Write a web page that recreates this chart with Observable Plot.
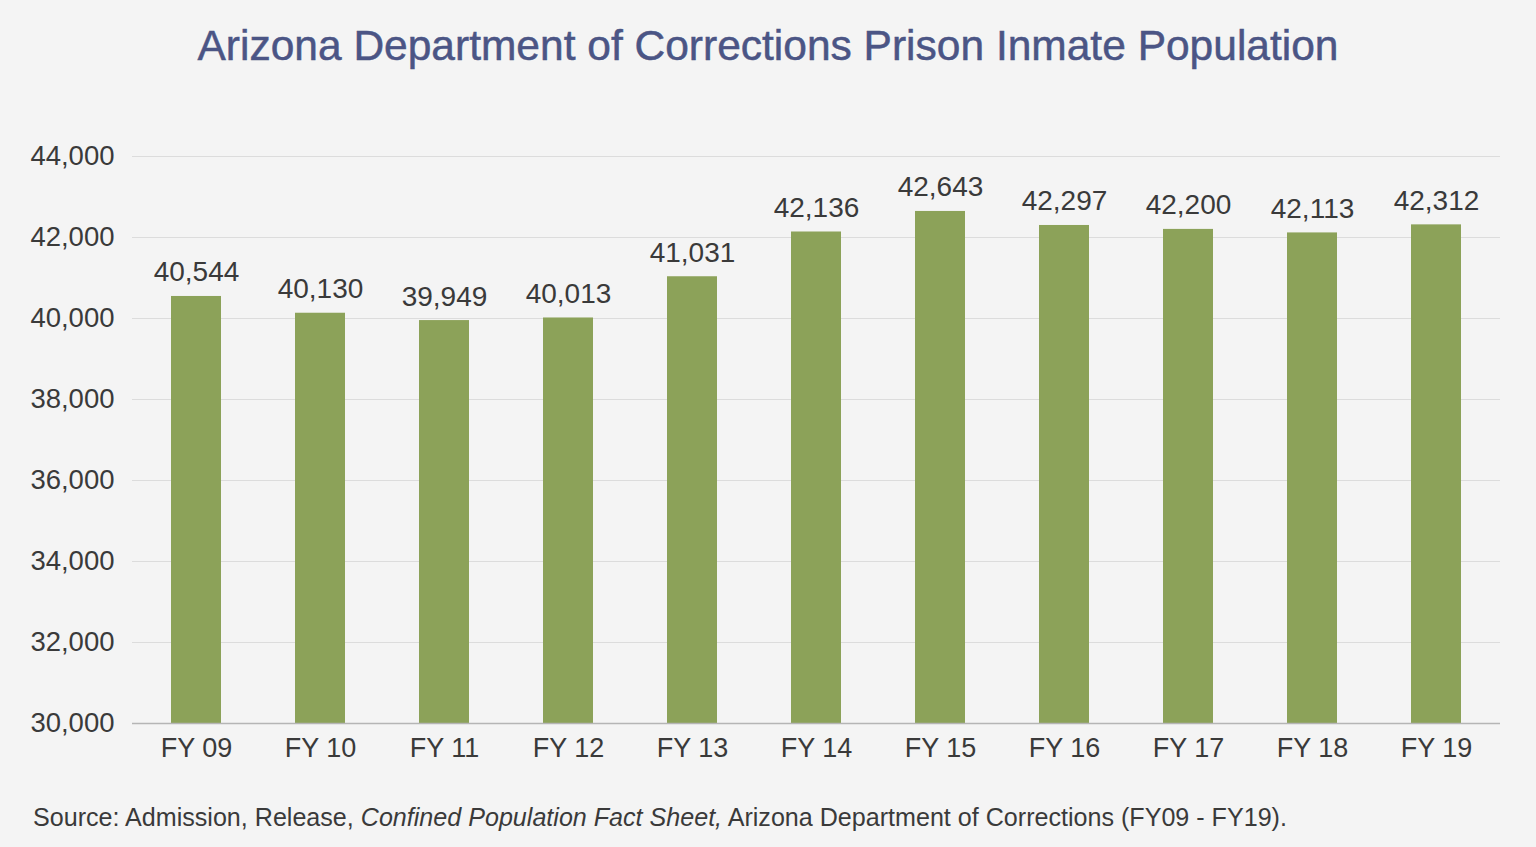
<!DOCTYPE html>
<html>
<head>
<meta charset="utf-8">
<script src="https://cdn.jsdelivr.net/npm/d3@7"></script>
<script src="https://cdn.jsdelivr.net/npm/@observablehq/plot@0.6"></script>
<style>
  html, body { margin: 0; padding: 0; background: #f4f4f4; }
  body { width: 1536px; height: 847px; position: relative; overflow: hidden; font-family: "Liberation Sans", Arial, sans-serif; }
  #title { position: absolute; left: 0; width: 1536px; top: 22px; text-align: center; font-size: 42.5px; color: #4b5585; -webkit-text-stroke: 0.5px #4b5585; }
  #chart { position: absolute; left: 0; top: 100px; }
  #source { position: absolute; left: 33px; top: 803px; font-size: 25.1px; color: #3a3a3a; }
</style>
</head>
<body>
<div id="title">Arizona Department of Corrections Prison Inmate Population</div>
<div id="chart"></div>
<div id="source">Source: Admission, Release, <i>Confined Population Fact Sheet,</i> Arizona Department of Corrections (FY09 - FY19).</div>
<script>
const years = ["FY 09","FY 10","FY 11","FY 12","FY 13","FY 14","FY 15","FY 16","FY 17","FY 18","FY 19"];
const population = [40544, 40130, 39949, 40013, 41031, 42136, 42643, 42297, 42200, 42113, 42312];
const yTicks = [30000, 32000, 34000, 36000, 38000, 40000, 42000, 44000];

const data = years.map((y, i) => ({year: y, value: population[i]}));
const fmt = d3.format(",");

const chart = Plot.plot({
  width: 1536,
  height: 700,
  marginLeft: 132,
  marginRight: 36,
  marginTop: 56,
  marginBottom: 77,
  style: {background: "transparent", fontFamily: "Liberation Sans, Arial, sans-serif", color: "#3a3a3a"},
  x: {domain: years, paddingInner: 0.6, paddingOuter: 0.3, label: null, tickSize: 0, tickPadding: 14},
  y: {domain: [30000, 44000], ticks: yTicks, tickFormat: fmt, label: null, tickSize: 0, tickPadding: 18},
  marks: [
    Plot.gridY(yTicks.filter(t => t > 30000), {stroke: "#dcdcdc", strokeOpacity: 1}),
    Plot.barY(data, {x: "year", y1: 30000, y2: "value", fill: "#8ca259"}),
    Plot.ruleY([30000], {stroke: "#b5b5b5", strokeWidth: 1.5}),
    Plot.text(data, {x: "year", y: "value", text: d => fmt(d.value), dy: -24, fontSize: 28, fill: "#3a3a3a"}),
    Plot.axisX({tickSize: 0, tickPadding: 14, fontSize: 27, label: null}),
    Plot.axisY({ticks: yTicks, tickFormat: fmt, tickSize: 0, tickPadding: 18, fontSize: 27.5, label: null})
  ]
});
document.getElementById("chart").appendChild(chart);
</script>
</body>
</html>
